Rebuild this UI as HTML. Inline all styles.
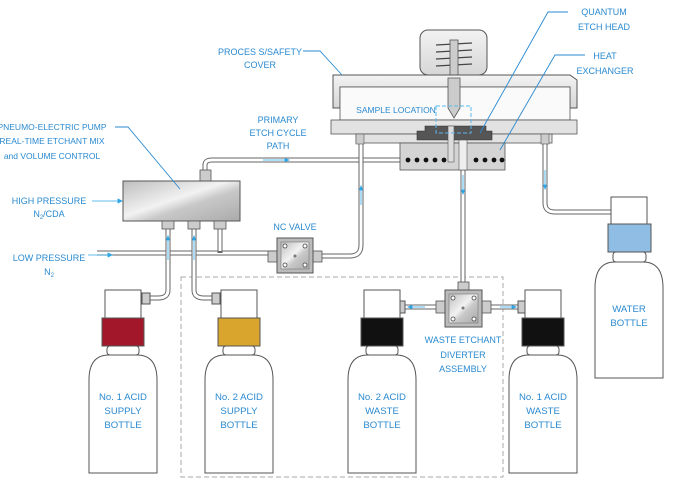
<!DOCTYPE html>
<html><head><meta charset="utf-8"><style>
html,body{margin:0;padding:0;background:#fff;}
svg{display:block;}
text{font-family:"Liberation Sans",sans-serif;font-size:9px;fill:#2a8ad0;text-anchor:middle;}
.bt{font-size:9.6px;}
.po{fill:none;stroke:#666;stroke-width:5;}
.pi{fill:none;stroke:#fff;stroke-width:3;}
.ld{fill:none;stroke:#2a8ad0;stroke-width:0.9;}
.ar{stroke:#2ea6e8;stroke-width:0.8;}
</style></head><body>
<svg width="700" height="494" viewBox="0 0 700 494" xmlns="http://www.w3.org/2000/svg">
<defs>
<linearGradient id="met" x1="0" y1="0" x2="1" y2="1">
<stop offset="0" stop-color="#bdbdbd"/><stop offset="0.45" stop-color="#f2f2f2"/><stop offset="0.6" stop-color="#c8c8c8"/><stop offset="1" stop-color="#aaa"/></linearGradient>
<linearGradient id="cov" x1="0" y1="0" x2="0" y2="1"><stop offset="0" stop-color="#f3f3f3"/><stop offset="1" stop-color="#d6d6d6"/></linearGradient>
</defs>

<rect x="181" y="277" width="322" height="200" fill="none" stroke="#aaa" stroke-width="1" stroke-dasharray="5,3"/>

<g>
<path class="po" d="M205 172 V165 Q205 160 212 160 H402"/>
<path class="pi" d="M205 172 V165 Q205 160 212 160 H402"/>
<path class="po" d="M97 253 H278"/><path class="pi" d="M97 253 H278"/>
<path class="po" d="M220 226 V253"/><path class="pi" d="M220 226 V251"/>
<path class="po" d="M168 226 V290 Q168 298 158 298 H148"/><path class="pi" d="M168 226 V290 Q168 298 158 298 H148"/>
<path class="po" d="M194 226 V290 Q194 298 204 298 H216"/><path class="pi" d="M194 226 V290 Q194 298 204 298 H216"/>
<path class="po" d="M313 256 H350 Q361 256 361 245 V140"/><path class="pi" d="M313 256 H350 Q361 256 361 245 V140"/>
<path class="po" d="M545 140 V203 Q545 212 555 212 H612"/><path class="pi" d="M545 140 V203 Q545 212 555 212 H612"/>
<path class="po" d="M463 168 V292"/><path class="pi" d="M463 168 V292"/>
<path class="po" d="M400 307 H446"/><path class="pi" d="M400 307 H446"/>
<path class="po" d="M482 307 H526"/><path class="pi" d="M482 307 H526"/>
</g>
<g class="ar" fill="#2ea6e8">
<line x1="263" y1="160" x2="285" y2="160"/><polygon points="285,158.5 289,160 285,161.5"/>
<line x1="361" y1="205" x2="361" y2="190"/><polygon points="359.5,190 361,186 362.5,190"/>
<line x1="545" y1="170" x2="545" y2="185"/><polygon points="543.5,185 545,189 546.5,185"/>
<line x1="463" y1="175" x2="463" y2="190"/><polygon points="461.5,190 463,194 464.5,190"/>
<line x1="168" y1="260" x2="168" y2="240"/><polygon points="166.5,240 168,236 169.5,240"/>
<line x1="194" y1="260" x2="194" y2="240"/><polygon points="192.5,240 194,236 195.5,240"/>
<line x1="92" y1="201" x2="118" y2="201"/><polygon points="118,199 122,201 118,203"/>
<line x1="88" y1="255" x2="108" y2="255"/><polygon points="108,253 112,255 108,257"/>
<line x1="425" y1="307" x2="412" y2="307"/><polygon points="412,305.5 408,307 412,308.5"/>
<line x1="500" y1="307" x2="512" y2="307"/><polygon points="512,305.5 516,307 512,308.5"/>
</g>

<rect x="200" y="170" width="11" height="11" fill="#ccc" stroke="#555" stroke-width="0.8"/>
<rect x="123" y="181" width="117" height="40" fill="url(#met)" stroke="#555" stroke-width="1"/>
<g fill="#ccc" stroke="#555" stroke-width="0.8">
<rect x="162" y="221" width="12" height="8"/><rect x="188" y="221" width="12" height="8"/><rect x="214" y="221" width="12" height="8"/>
</g>

<rect x="268" y="251" width="9" height="11" fill="#ccc" stroke="#555" stroke-width="0.8"/>
<rect x="313" y="251" width="9" height="11" fill="#ccc" stroke="#555" stroke-width="0.8"/>
<rect x="277" y="238" width="36" height="35" fill="#bbb" stroke="#555"/>
<rect x="281" y="242" width="28" height="27" fill="url(#met)" stroke="#777" stroke-width="0.6"/>
<g fill="#fff" stroke="#444" stroke-width="0.8"><circle cx="285" cy="246" r="2"/><circle cx="305" cy="246" r="2"/><circle cx="285" cy="265" r="2"/><circle cx="305" cy="265" r="2"/><circle cx="295" cy="256" r="1"/></g>

<rect x="458" y="282" width="11" height="9" fill="#ccc" stroke="#555" stroke-width="0.8"/>
<rect x="436" y="301" width="9" height="12" fill="#ccc" stroke="#555" stroke-width="0.8"/>
<rect x="482" y="301" width="9" height="12" fill="#ccc" stroke="#555" stroke-width="0.8"/>
<rect x="445" y="290" width="37" height="37" fill="#bbb" stroke="#555"/>
<rect x="449" y="294" width="29" height="29" fill="url(#met)" stroke="#777" stroke-width="0.6"/>
<g fill="#fff" stroke="#444" stroke-width="0.8"><circle cx="453" cy="298" r="2"/><circle cx="474" cy="298" r="2"/><circle cx="453" cy="319" r="2"/><circle cx="474" cy="319" r="2"/><circle cx="463" cy="308" r="1"/></g>

<rect x="420" y="30" width="67" height="45" rx="8" fill="url(#cov)" stroke="#555"/>
<g stroke="#444" stroke-width="1.2"><line x1="436" y1="45" x2="472" y2="43"/><line x1="436" y1="52" x2="472" y2="50"/><line x1="436" y1="59" x2="472" y2="57"/><line x1="436" y1="66" x2="472" y2="64"/></g>
<rect x="450" y="40" width="8" height="35" fill="#ccc" stroke="#555" stroke-width="0.8"/>
<path d="M333 75 H570 L577 80 V108 H570 V87 H340 V108 H333 Z" fill="url(#cov)" stroke="#555"/>
<rect x="340" y="87" width="230" height="33" fill="#fafafa" stroke="#555" stroke-width="0.8"/>
<path d="M448 78 H460 V108 L454 118 L448 108 Z" fill="#ccc" stroke="#555" stroke-width="0.8"/>
<rect x="331" y="120" width="246" height="14" fill="#e2e2e2" stroke="#555" stroke-width="0.8"/>
<rect x="356" y="134" width="196" height="9" fill="#e2e2e2" stroke="#555" stroke-width="0.8"/>
<path d="M425 126 H486 V131 H492 V140 H417 V131 H425 Z" fill="#555" stroke="#333" stroke-width="0.6"/>
<rect x="356" y="134" width="8" height="10" fill="#ccc" stroke="#555" stroke-width="0.6"/>
<rect x="541" y="134" width="8" height="10" fill="#ccc" stroke="#555" stroke-width="0.6"/>
<rect x="400" y="143" width="105" height="27" fill="#d4d4d4" stroke="#555" stroke-width="0.8"/>
<rect x="448" y="126" width="6" height="36" fill="#ddd" stroke="#555" stroke-width="0.6"/>
<rect x="459" y="140" width="8" height="30" fill="#eee" stroke="#555" stroke-width="0.6"/>
<g fill="#111"><circle cx="408" cy="160" r="2.4"/><circle cx="417" cy="160" r="2.4"/><circle cx="426" cy="160" r="2.4"/><circle cx="435" cy="160" r="2.4"/><circle cx="444" cy="160" r="2.4"/><circle cx="476" cy="160" r="2.4"/><circle cx="485" cy="160" r="2.4"/><circle cx="494" cy="160" r="2.4"/><circle cx="502" cy="160" r="2.4"/></g>
<rect x="436" y="106" width="35" height="27" fill="none" stroke="#5ab8ee" stroke-width="1" stroke-dasharray="4,2"/>

<g stroke="#555" stroke-width="1">
<rect x="142" y="293" width="8" height="11" fill="#ccc"/>
<rect x="212" y="293" width="8" height="11" fill="#ccc"/>
<rect x="397" y="301" width="8" height="12" fill="#ccc"/>
<rect x="518" y="301" width="8" height="12" fill="#ccc"/>
</g>
<g stroke="#555" stroke-width="1">
<rect x="105" y="290" width="36" height="28" fill="#fff"/>
<rect x="102" y="318" width="42" height="28" fill="#a3172a"/>
<rect x="107" y="346" width="32" height="9" rx="3" fill="#fff"/>
<path d="M89 473 V380 Q89 355 109 355 H137 Q157 355 157 380 V473 Z" fill="#fff"/>
<rect x="221" y="290" width="36" height="28" fill="#fff"/>
<rect x="218" y="318" width="42" height="28" fill="#d9a52c"/>
<rect x="223" y="346" width="32" height="9" rx="3" fill="#fff"/>
<path d="M205 473 V380 Q205 355 225 355 H253 Q273 355 273 380 V473 Z" fill="#fff"/>
<rect x="364" y="290" width="36" height="28" fill="#fff"/>
<rect x="361" y="318" width="42" height="28" fill="#111"/>
<rect x="366" y="346" width="32" height="9" rx="3" fill="#fff"/>
<path d="M348 473 V380 Q348 355 368 355 H396 Q416 355 416 380 V473 Z" fill="#fff"/>
<rect x="525" y="290" width="36" height="28" fill="#fff"/>
<rect x="522" y="318" width="42" height="28" fill="#111"/>
<rect x="527" y="346" width="32" height="9" rx="3" fill="#fff"/>
<path d="M509 473 V380 Q509 355 529 355 H557 Q577 355 577 380 V473 Z" fill="#fff"/>
<rect x="611" y="197" width="36" height="27" fill="#fff"/>
<rect x="608" y="224" width="43" height="28" fill="#8fbde3"/>
<rect x="613" y="252" width="33" height="10" rx="3" fill="#fff"/>
<path d="M595 378 V288 Q595 262 615 262 H643 Q663 262 663 288 V378 Z" fill="#fff"/>
</g>

<path class="ld" d="M303 51 H320 L342 75"/>
<path class="ld" d="M115 127 H128 L180 189"/>
<path class="ld" d="M568 12 H548 L480 133"/>
<path class="ld" d="M585 55 H555 L500 150"/>

<text x="260" y="55">PROCES S/SAFETY</text><text x="260" y="68">COVER</text>
<text x="52" y="130" style="font-size:8.5px">PNEUMO-ELECTRIC PUMP</text>
<text x="52" y="144" style="font-size:8.5px">REAL-TIME ETCHANT MIX</text>
<text x="52" y="159" style="font-size:8.5px">and VOLUME CONTROL</text>
<text x="278" y="123">PRIMARY</text><text x="278" y="136">ETCH CYCLE</text><text x="278" y="149">PATH</text>
<text x="49" y="204">HIGH PRESSURE</text><text x="49" y="217">N<tspan font-size="6" dy="2">2</tspan><tspan dy="-2">/CDA</tspan></text>
<text x="49" y="261">LOW PRESSURE</text><text x="49" y="275">N<tspan font-size="6" dy="2">2</tspan></text>
<text x="295" y="230">NC VALVE</text>
<text x="604" y="15">QUANTUM</text><text x="604" y="30">ETCH HEAD</text>
<text x="605" y="59">HEAT</text><text x="605" y="74">EXCHANGER</text>
<text x="396" y="113" style="font-size:8.5px">SAMPLE LOCATION</text>
<text x="463" y="343">WASTE ETCHANT</text><text x="463" y="358">DIVERTER</text><text x="463" y="372">ASSEMBLY</text>
<text class="bt" x="123" y="400">No. 1 ACID</text><text class="bt" x="123" y="414">SUPPLY</text><text class="bt" x="123" y="428">BOTTLE</text>
<text class="bt" x="239" y="400">No. 2 ACID</text><text class="bt" x="239" y="414">SUPPLY</text><text class="bt" x="239" y="428">BOTTLE</text>
<text class="bt" x="382" y="400">No. 2 ACID</text><text class="bt" x="382" y="414">WASTE</text><text class="bt" x="382" y="428">BOTTLE</text>
<text class="bt" x="543" y="400">No. 1 ACID</text><text class="bt" x="543" y="414">WASTE</text><text class="bt" x="543" y="428">BOTTLE</text>
<text class="bt" x="629" y="312">WATER</text><text class="bt" x="629" y="326">BOTTLE</text>
</svg>
</body></html>
